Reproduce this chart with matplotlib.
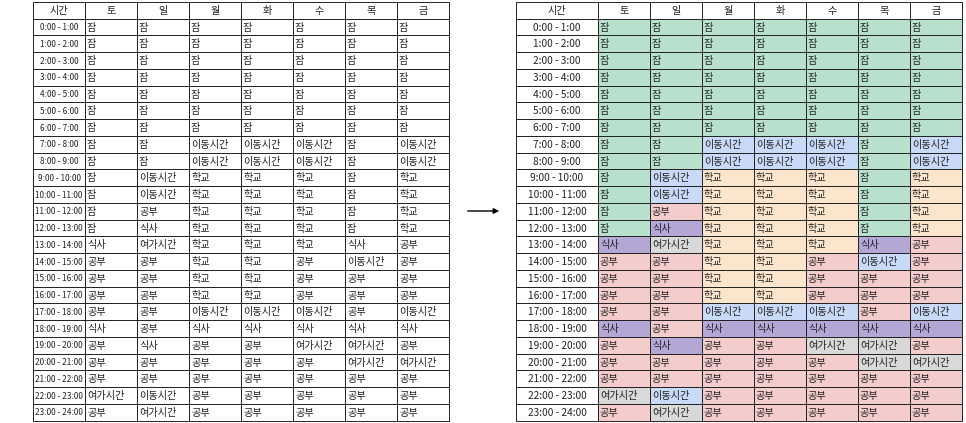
import matplotlib
matplotlib.use("Agg")
import matplotlib.pyplot as plt
from matplotlib.patches import Rectangle

plt.rcParams["font.family"] = ["Noto Sans CJK JP", "Noto Sans CJK KR", "Noto Sans CJK SC", "DejaVu Sans"]

days = ["토", "일", "월", "화", "수", "목", "금"]
times = [f"{h}:00 - {h+1}:00" for h in range(24)]
Z, M, S, G, E, Y = "잠", "이동시간", "학교", "공부", "식사", "여가시간"
sat = [Z]*13 + [E, G, G, G, G, E, G, G, G, Y, G]
sun = [Z]*9 + [M, M, G, E, Y, G, G, G, G, G, E, G, G, M, Y]
mon = [Z]*7 + [M, M] + [S]*8 + [M, E] + [G]*5
tue = [Z]*7 + [M, M] + [S]*8 + [M, E] + [G]*5
wed = [Z]*7 + [M, M] + [S]*5 + [G, G, G, M, E, Y, G, G, G, G]
thu = [Z]*13 + [E, M, G, G, G, E, Y, Y, G, G, G]
fri = [Z]*7 + [M, M] + [S]*4 + [G, G, G, G, M, E, G, Y, G, G, G]
schedule = [sat, sun, mon, tue, wed, thu, fri]
colors = {Z: "#b7e1cd", M: "#c9daf8", S: "#fce5cd", G: "#f4cccc", E: "#b4a7d6", Y: "#d9d9d9"}

W, H = 966, 423
fig = plt.figure(figsize=(W/100, H/100), dpi=100)
ax = fig.add_axes([0, 0, 1, 1])
ax.set_xlim(0, W); ax.set_ylim(H, 0); ax.axis("off")

top, rh = 2, 16.75
def table(x0, tw, colored, tfs):
    dw = 52
    xs = [x0, x0+tw] + [x0+tw+dw*(i+1) for i in range(7)]
    for r in range(25):
        y = top + r*rh
        for c in range(8):
            xa, xb = xs[c], xs[c+1]
            fc = "white"
            fs = 7.3
            if r == 0:
                txt = "시간" if c == 0 else days[c-1]
                ha, tx = "center", (xa+xb)/2
            elif c == 0:
                txt = times[r-1]; ha, tx = "center", (xa+xb)/2
                fs = tfs
            else:
                txt = schedule[c-1][r-1]; ha, tx = "left", xa+2
                if colored:
                    fc = colors[txt]
            ax.add_patch(Rectangle((xa, y), xb-xa, rh, facecolor=fc,
                                   edgecolor="#222222", linewidth=0.7))
            ax.text(tx, y+rh/2+0.5, txt, ha=ha, va="center", fontsize=fs, color="#222222")

table(33, 52, False, 5.9)
table(516, 82, True, 7.3)
ax.annotate("", xy=(502, 211), xytext=(465, 211),
            arrowprops=dict(arrowstyle="-|>", color="black", lw=1, mutation_scale=8))
fig.savefig("out.png", dpi=100)
